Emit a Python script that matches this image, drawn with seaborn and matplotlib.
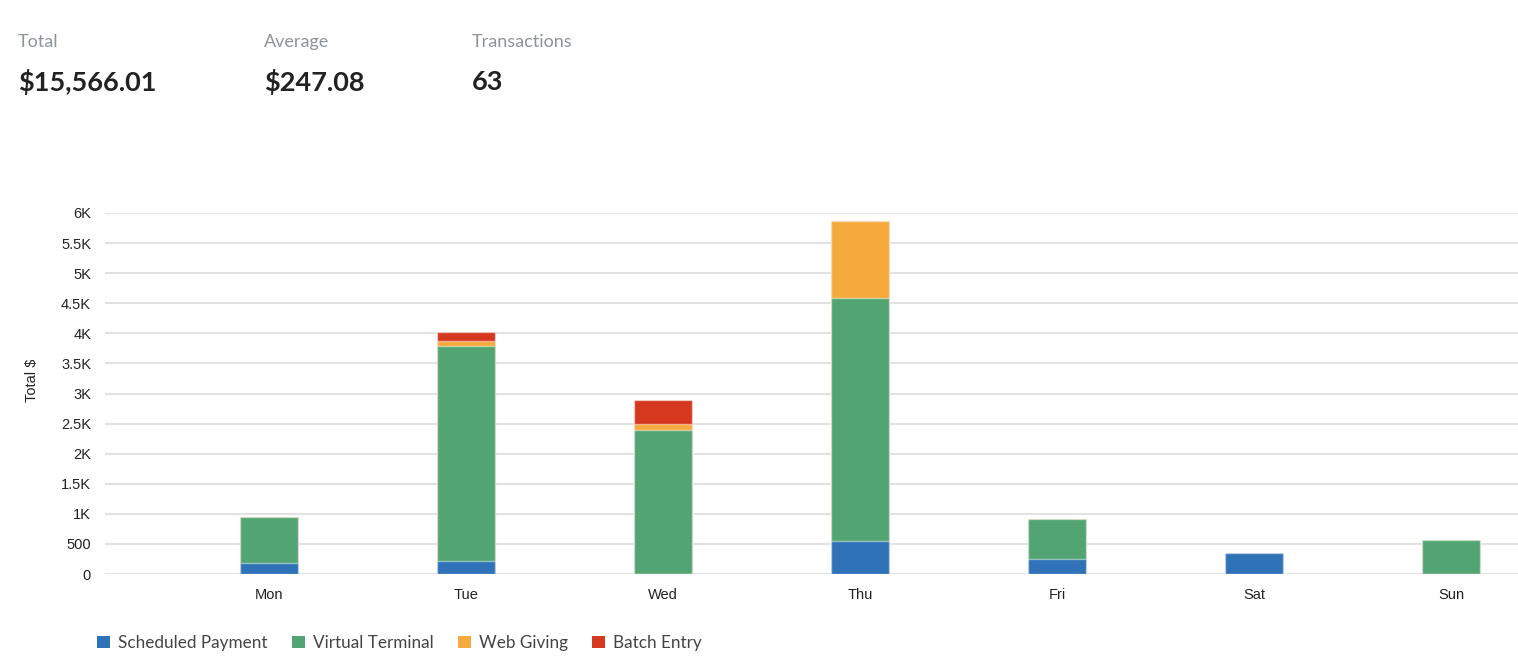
import matplotlib
matplotlib.use("Agg")
import matplotlib.pyplot as plt
import seaborn as sns
import numpy as np
import pandas as pd
from matplotlib.patches import Patch
from matplotlib.ticker import FixedLocator, FixedFormatter

days = ["Mon", "Tue", "Wed", "Thu", "Fri", "Sat", "Sun"]
series_names = ["Scheduled Payment", "Virtual Terminal", "Web Giving", "Batch Entry"]
scheduled = [190, 215, 0, 550, 245, 350, 0]
virtual = [757, 3575, 2393, 4040, 670, 0, 568]
web_giving = [0, 85, 100, 1280, 0, 0, 0]
batch_entry = [0, 150, 400, 0, 0, 0, 0]
colors = ["#2f72b7", "#52a572", "#f4aa3c", "#d6371f"]

y_ticks = [0, 500, 1000, 1500, 2000, 2500, 3000, 3500, 4000, 4500, 5000, 5500, 6000]
y_tick_labels = ["0", "500", "1K", "1.5K", "2K", "2.5K", "3K", "3.5K", "4K", "4.5K", "5K", "5.5K", "6K"]

header_labels = ["Total", "Average", "Transactions"]
header_values = ["$15,566.01", "$247.08", "63"]

sns.set_theme(style="white")
plt.rcParams["font.family"] = ["Liberation Sans", "DejaVu Sans"]

fig = plt.figure(figsize=(15.18, 6.66), dpi=100)
W, H = 1518, 666
ax = fig.add_axes([105 / W, (H - 574) / H, (1518 - 105) / W, (574 - 213) / H])

layers = [scheduled, virtual, web_giving, batch_entry]
cum = np.cumsum(np.array(layers, dtype=float), axis=0)
for i in reversed(range(len(layers))):
    df = pd.DataFrame({"day": days, "value": cum[i]})
    sns.barplot(data=df, x="day", y="value", order=days, color=colors[i],
                width=0.295, saturation=1, edgecolor=(1, 1, 1, 0.45),
                linewidth=1.0, ax=ax, zorder=3)

ax.set_xlim(-0.832, 6.34)
ax.set_ylim(0, 6000)
ax.yaxis.set_major_locator(FixedLocator(y_ticks))
ax.yaxis.set_major_formatter(FixedFormatter(y_tick_labels))
ax.grid(axis="y", color="#e2e2e2", linewidth=1.5, zorder=0)
ax.grid(axis="x", visible=False)
for s in ax.spines.values():
    s.set_visible(False)
ax.tick_params(axis="both", length=0, labelsize=10.5, colors="#222222")
ax.tick_params(axis="y", pad=10)
ax.tick_params(axis="x", pad=10)
ax.set_xlabel("")
ax.set_ylabel("Total $", fontsize=10.5, color="#222222")
ax.yaxis.set_label_coords((39 - 105) / (1518 - 105), (574 - 380) / 361)
ax.set_axisbelow(True)

# header
hx = [18, 264, 472]
for x, lab, val in zip(hx, header_labels, header_values):
    fig.text(x / W, 1 - 42 / H, lab, fontsize=13, color="#8e9398",
             family=["Lato", "DejaVu Sans"], va="center", ha="left")
    fig.text(x / W, 1 - 82 / H, val, fontsize=19.5, color="#222222", fontweight="bold",
             family=["Lato", "DejaVu Sans"], va="center", ha="left")

handles = [Patch(facecolor=c, edgecolor="none", label=n) for c, n in zip(colors, series_names)]
leg = fig.legend(handles=handles, loc="center left", bbox_to_anchor=(82 / W, 1 - 643 / H),
                 ncol=4, frameon=False, handlelength=0.75, handleheight=0.75,
                 handletextpad=0.45, columnspacing=1.45,
                 prop={"family": ["Lato", "DejaVu Sans"], "size": 12.3})
for t in leg.get_texts():
    t.set_color("#444444")

fig.savefig("out.png", dpi=100)
